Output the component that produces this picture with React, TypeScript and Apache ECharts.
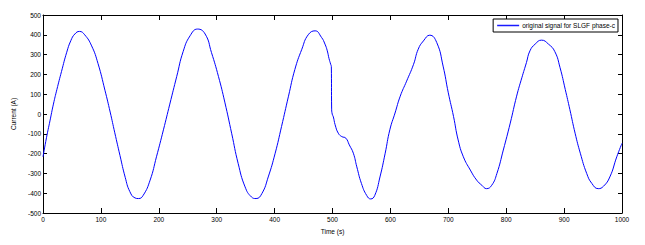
import React, { useEffect, useRef } from "react";
import * as echarts from "echarts";

const timeS: number[] = [
  0, 6, 12, 18, 24, 32, 41, 48, 55, 63, 72, 84, 95, 107, 116, 124, 133, 142, 150, 159,
  165, 173, 185, 196, 208, 219, 231, 242, 254, 267, 280, 291, 303, 314, 326, 337, 349, 360, 368, 378,
  389, 401, 412, 424, 435, 447, 458, 470, 481, 487, 491, 494, 497, 498, 498.5, 499.5, 501.5, 504.5, 510, 516,
  523, 529, 536, 542, 550, 559, 566, 573, 582, 591, 599, 608, 617, 628, 640, 648, 657, 668, 680, 691,
  700, 709, 717, 726, 738, 749, 758, 766, 775, 784, 795, 807, 818, 827, 835, 841, 850, 861, 873, 884,
  893, 902, 910, 919, 928, 939, 948, 959, 968, 979, 991, 1000,
];

const currentA: number[] = [
  -216, -120, -35, 50, 124, 215, 312, 370, 404, 417, 400, 344, 255, 120, 10, -95, -210, -320, -392, -424,
  -427, -411, -334, -216, -80, 50, 190, 315, 395, 429, 404, 310, 190, 60, -100, -249, -368, -419, -427, -402,
  -318, -198, -63, 90, 225, 327, 400, 420, 387, 353, 319, 280, 250, 240, 30, 0, -15, -54, -97, -114,
  -122, -156, -198, -267, -351, -411, -429, -411, -318, -198, -80, 5, 90, 166, 251, 327, 369, 398, 361, 242,
  107, -12, -131, -216, -283, -334, -360, -377, -360, -300, -182, -46, 90, 183, 260, 319, 353, 373, 353, 315,
  234, 124, 22, -97, -198, -300, -351, -377, -365, -318, -216, -148,
];

const xTicks = { min: 0, max: 1000, interval: 100 };
const yTicks = { min: -500, max: 500, interval: 100 };
const seriesName = "original signal for SLGF phase-c";

export default function App() {
  const ref = useRef<HTMLDivElement>(null);
  useEffect(() => {
    if (!ref.current) return;
    const chart = echarts.init(ref.current, undefined, { renderer: "svg" });
    const font = "Liberation Sans, Arial, sans-serif";
    const data = timeS.map((t, i) => [t, currentA[i]]);
    const axisLine = { show: true, onZero: false, lineStyle: { color: "#000", width: 1 } };
    const fmt = (v: number) => String(v);
    chart.setOption({
      animation: false,
      backgroundColor: "#fff",
      textStyle: { fontFamily: font },
      grid: { left: 43, right: 23, top: 15, bottom: 32, containLabel: false },
      legend: {
        show: true,
        data: [{ name: seriesName, icon: "rect" }],
        right: 27,
        top: 19,
        orient: "horizontal",
        backgroundColor: "#fff",
        borderColor: "#000",
        borderWidth: 1,
        borderRadius: 0,
        padding: [3, 3, 3, 4],
        itemWidth: 22,
        itemHeight: 1.5,
        itemGap: 3,
        itemStyle: { color: "#1a1aff", borderWidth: 0 },
        lineStyle: { color: "#1a1aff" },
        textStyle: { fontSize: 6.5, color: "#000", fontFamily: font, padding: [0, 0, 0, -2] },
      },
      xAxis: [
        {
          type: "value",
          position: "bottom",
          ...xTicks,
          name: "Time (s)",
          nameLocation: "middle",
          nameGap: 14,
          nameTextStyle: { fontSize: 6.5, color: "#000", fontFamily: font },
          axisLine,
          axisTick: { show: true, inside: true, length: 5, lineStyle: { color: "#000" } },
          axisLabel: { fontSize: 6.5, color: "#000", margin: 3, fontFamily: font, formatter: fmt },
          splitLine: { show: false },
        },
        {
          type: "value",
          position: "top",
          ...xTicks,
          axisLine,
          axisTick: { show: true, inside: true, length: 5, lineStyle: { color: "#000" } },
          axisLabel: { show: false },
          splitLine: { show: false },
        },
      ],
      yAxis: [
        {
          type: "value",
          position: "left",
          ...yTicks,
          name: "Current (A)",
          nameLocation: "middle",
          nameGap: 20,
          nameRotate: 90,
          nameTextStyle: { fontSize: 6.5, color: "#000", fontFamily: font },
          axisLine,
          axisTick: { show: true, inside: true, length: 4, lineStyle: { color: "#000" } },
          axisLabel: { fontSize: 6.5, color: "#000", margin: 2, fontFamily: font, formatter: fmt },
          splitLine: { show: false },
        },
        {
          type: "value",
          position: "right",
          ...yTicks,
          axisLine,
          axisTick: { show: true, inside: true, length: 4, lineStyle: { color: "#000" } },
          axisLabel: { show: false },
          splitLine: { show: false },
        },
      ],
      series: [
        {
          name: seriesName,
          type: "line",
          xAxisIndex: 0,
          yAxisIndex: 0,
          data,
          symbol: "none",
          smooth: 0.5,
          lineStyle: { color: "#0000ff", width: 1 },
          itemStyle: { color: "#0000ff" },
        },
      ],
    });
    return () => chart.dispose();
  }, []);
  return (
    <div
      ref={ref}
      style={{ position: "fixed", left: 0, top: 0, width: 645, height: 245 }}
    />
  );
}
